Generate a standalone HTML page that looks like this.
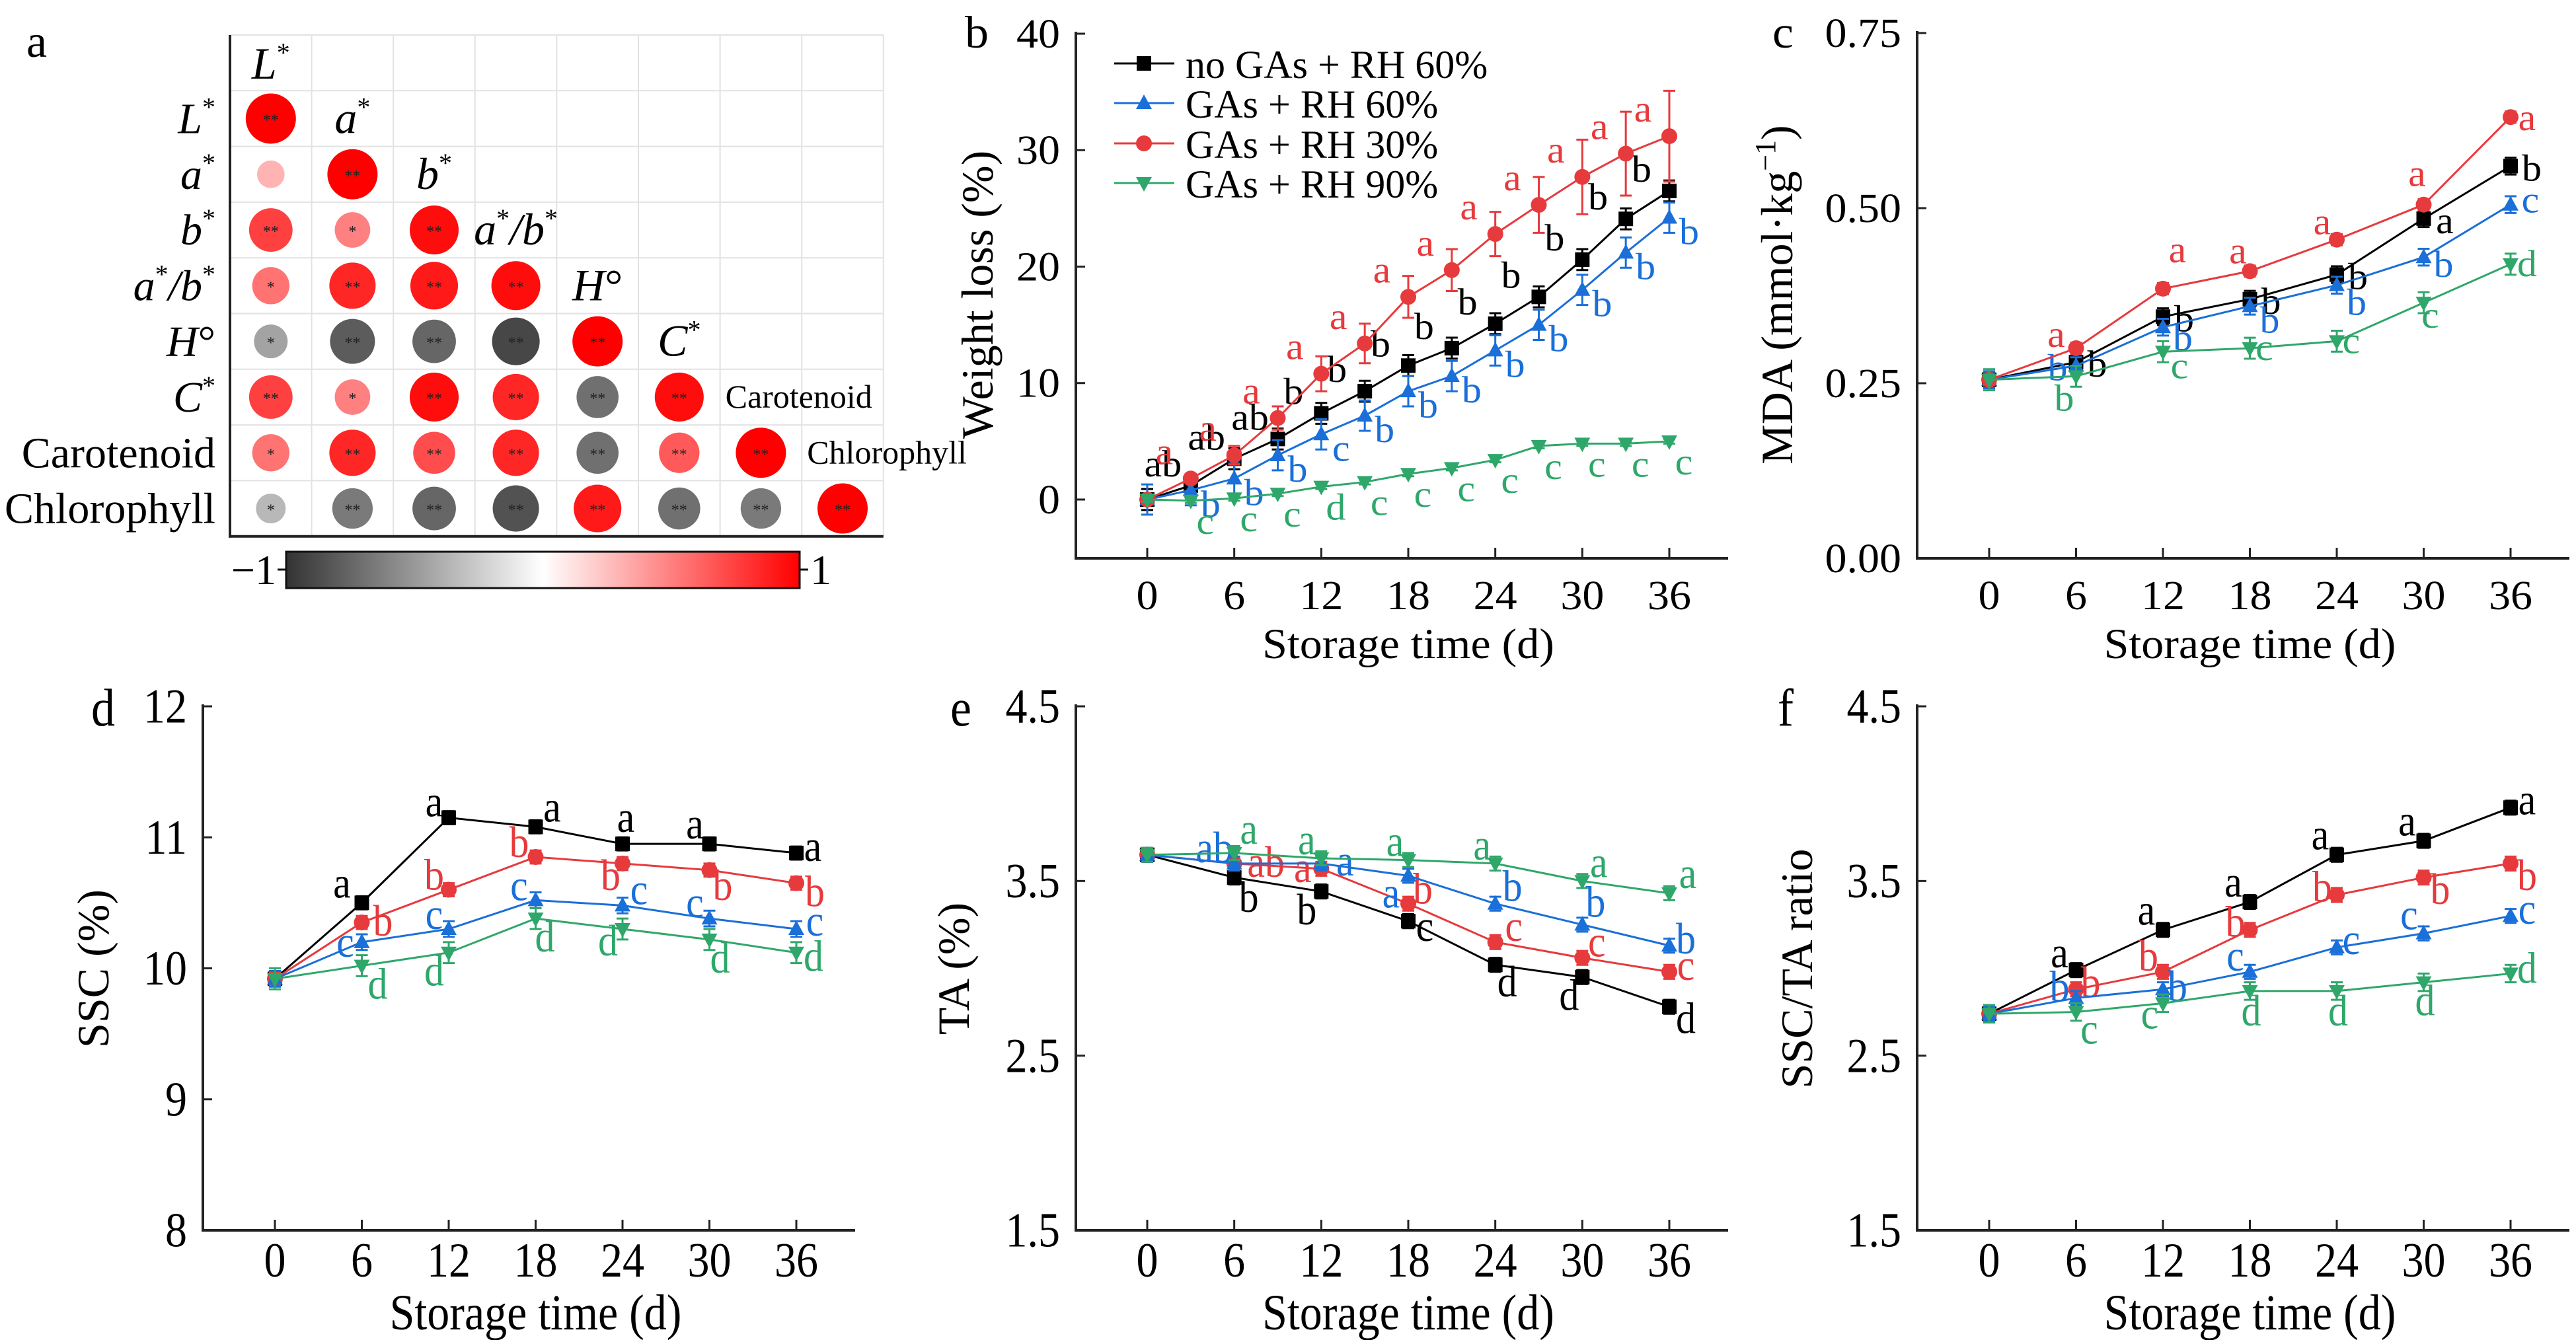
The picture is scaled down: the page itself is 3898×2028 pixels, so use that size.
<!DOCTYPE html>
<html><head><meta charset="utf-8"><style>
html,body{margin:0;padding:0;background:#fff}
svg{display:block}
text{font-family:"Liberation Serif",serif}
</style></head><body>
<svg id="s" xmlns="http://www.w3.org/2000/svg" width="3898" height="2028" viewBox="0 0 3898 2028">
<defs><linearGradient id="cb" x1="0" x2="1" y1="0" y2="0">
<stop offset="0" stop-color="#333"/><stop offset="0.5" stop-color="#fff"/><stop offset="1" stop-color="#f00"/></linearGradient></defs>
<rect width="3898" height="2028" fill="#fff"/>
</svg>
<script>
(function(){
const S=document.getElementById('s');let H='';
function T(x,y,s,o){o=o||{};const fs=o.fs||62,sy=o.sy||1,an=o.an||'start',fill=o.fill||'#000';
let tr='translate('+x+','+y+')'+(o.rot?' rotate('+o.rot+')':'')+' scale(1,'+sy+')';
H+='<text transform="'+tr+'" font-size="'+fs+'" text-anchor="'+an+'" fill="'+fill+'"'+(o.it?' font-style="italic"':'')+'>'+s+'</text>';}
function L(x1,y1,x2,y2,c,w){H+='<line x1="'+x1+'" y1="'+y1+'" x2="'+x2+'" y2="'+y2+'" stroke="'+c+'" stroke-width="'+w+'"/>';}
const aL=348,aT=53,cw=123.6,rh=84.3;
for(let i=0;i<=8;i++){L(aL+cw*i,aT,aL+cw*i,aT+rh*9,'#e2e2e2',2);}
for(let j=0;j<=9;j++){L(aL,aT+rh*j,aL+cw*8,aT+rh*j,'#e2e2e2',2);}
L(aL,aT,aL,aT+rh*9+2,'#222',4);L(aL-2,aT+rh*9,aL+cw*8,aT+rh*9,'#222',4);
const lab=['<tspan font-style="italic">L</tspan><tspan font-size="40" dy="-26">*</tspan>',
'<tspan font-style="italic">a</tspan><tspan font-size="40" dy="-26">*</tspan>',
'<tspan font-style="italic">b</tspan><tspan font-size="40" dy="-26">*</tspan>',
'<tspan font-style="italic">a</tspan><tspan font-size="40" dy="-26">*</tspan><tspan dy="26" font-style="italic">/b</tspan><tspan font-size="40" dy="-26">*</tspan>',
'<tspan font-style="italic">H</tspan>°',
'<tspan font-style="italic">C</tspan><tspan font-size="40" dy="-26">*</tspan>',
'Carotenoid','Chlorophyll'];
const M=[[1],[0.3,1],[0.75,0.5,0.95],[0.55,0.85,0.9,0.95],[-0.45,-0.8,-0.75,-0.9,1],[0.75,0.5,0.95,0.85,-0.7,0.95],[0.55,0.85,0.7,0.85,-0.7,0.65,1],[-0.35,-0.65,-0.75,-0.85,0.9,-0.7,-0.65,1]];
const ST=[['**'],['','**'],['**','*','**'],['*','**','**','**'],['*','**','**','**','**'],['**','*','**','**','**','**'],['*','**','**','**','**','**','**'],['*','**','**','**','**','**','**','**']];
T(aL+cw*0.5,aT+rh*0.5+24,lab[0],{fs:68,an:'middle'});
for(let i=0;i<8;i++){const cy=aT+rh*(i+1.5);
 T(326,cy+22,lab[i],{fs:66,an:'end'});
 for(let k=0;k<=i;k++){const r=M[i][k],cx=aL+cw*(k+0.5),rad=38*Math.sqrt(Math.abs(r));
  let col;if(r>0){const v=Math.round(255*(1-r));col='rgb(255,'+v+','+v+')';}else{const v=Math.round(255-204*(-r));col='rgb('+v+','+v+','+v+')';}
  H+='<circle cx="'+cx+'" cy="'+cy+'" r="'+rad+'" fill="'+col+'"/>';
  if(ST[i][k])T(cx,cy+10,ST[i][k],{fs:24,an:'middle',fill:'#222'});}
 if(i<7){const x=aL+cw*(i+1.5);
  if(i<5)T(x,cy+22,lab[i+1],{fs:68,an:'middle'});
  else T(aL+cw*(i+1)+8,cy+16,lab[i+1],{fs:50});}
}
H+='<rect x="433" y="835" width="777" height="55" fill="url(#cb)" stroke="#111" stroke-width="3"/>';
L(420,862,433,862,'#111',3);L(1210,862,1223,862,'#111',3);
T(418,884,'−1',{fs:64,an:'end'});T(1226,884,'1',{fs:64});
T(40,86,'a',{fs:70});
const COL={k:'#000',b:'#1a6fd8',r:'#e63a3d',g:'#2fa76a'};
function mark(t,x,y,c){if(t=='k')H+='<rect x="'+(x-11)+'" y="'+(y-11)+'" width="22" height="22" fill="'+c+'"/>';
 else if(t=='r')H+='<circle cx="'+x+'" cy="'+y+'" r="12" fill="'+c+'"/>';
 else if(t=='b')H+='<polygon points="'+x+','+(y-13)+' '+(x+12)+','+(y+9)+' '+(x-12)+','+(y+9)+'" fill="'+c+'"/>';
 else H+='<polygon points="'+x+','+(y+13)+' '+(x+12)+','+(y-9)+' '+(x-12)+','+(y-9)+'" fill="'+c+'"/>';}
function panel(P){
 const yv=v=>P.bot+(v-P.ymin)/(P.ymax-P.ymin)*(P.ytop-P.bot);
 const xv=d=>P.x0+(P.x36-P.x0)*d/36;
 L(P.left,P.bot,P.right,P.bot,'#222',4);L(P.left,P.bot+2,P.left,P.ytop-3,'#222',4);
 P.yt.forEach(v=>{const y=yv(v);L(P.left,y,P.left+14,y,'#222',3);T(P.left-24,y+22*P.sy,P.fmt(v),{fs:66,an:'end',sy:P.sy});});
 for(let d=0;d<=36;d+=6){const x=xv(d);L(x,P.bot,x,P.bot-16,'#222',3);T(x,P.xly,String(d),{fs:66,an:'middle',sy:P.sy});}
 T((P.x0+P.x36)/2,P.tly,'Storage time (d)',{fs:68,an:'middle',sy:P.sy});
 T(P.ytx,P.yty,P.ytitle,{fs:68,an:'middle',rot:-90,sy:1});
 T(P.lx,P.ly,P.lab,{fs:72,sy:P.sy});
 P.series.forEach(s=>{const c=COL[s.c];const n=s.v.length,step=36/(n-1);
  const pts=s.v.map((v,i)=>[xv(i*step),yv(v)]);
  H+='<polyline points="'+pts.map(p=>p.join(',')).join(' ')+'" fill="none" stroke="'+c+'" stroke-width="3"/>';
  pts.forEach((p,i)=>{const ev=(typeof s.e==='number'?s.e:s.e[i]);const e=Math.abs(ev/(P.ymax-P.ymin)*(P.ytop-P.bot));
   if(e>2){L(p[0],p[1]-e,p[0],p[1]+e,c,3);L(p[0]-9,p[1]-e,p[0]+9,p[1]-e,c,3);L(p[0]-9,p[1]+e,p[0]+9,p[1]+e,c,3);}
   mark(s.c,p[0],p[1],c);
   if(i>0&&s.l&&s.l[i-1]){const o=(s.o&&s.o[i-1])||s.d;T(p[0]+o[0],p[1]+o[1],s.l[i-1],{fs:60,an:'middle',sy:P.sy,fill:c});}
  });});
}
const f0=v=>String(v),f2=v=>v.toFixed(2),f1=v=>v.toFixed(1);
const TOPR={sy:0.95,bot:845,xly:922,tly:996};const BTMR={sy:1.12,bot:1862,ytop:1069,xly:1932,tly:2012};
panel(Object.assign({},TOPR,{left:1628,right:2615,x0:1736,x36:2526,ymin:-5.05,ymax:40,ytop:51,yt:[0,10,20,30,40],fmt:f0,ytitle:'Weight loss (%)',ytx:1502,yty:446,lab:'b',lx:1460,ly:72,
series:[
{c:'k',v:[0,1.2,3.5,5.2,7.4,9.3,11.5,13,15.1,17.4,20.6,24.1,26.5],e:0.9,l:['ab','ab','ab','b','b','b','b','b','b','b','b','b'],d:[-42,-14]},
{c:'b',v:[0,0.8,1.8,3.8,5.6,7.2,9.3,10.6,12.8,15,18,21.2,24.2],e:1.3,l:['b','b','b','c','b','b','b','b','b','b','b','b'],d:[30,40]},
{c:'r',v:[0,1.8,3.8,7,10.8,13.4,17.4,19.7,22.8,25.3,27.7,29.7,31.2],e:[0,.4,.8,1,1.5,1.7,1.8,1.8,1.9,2.4,3.2,3.6,3.9],l:['a','a','a','a','a','a','a','a','a','a','a','a'],d:[-40,-22]},
{c:'g',v:[0,-0.1,0.1,0.5,1.1,1.5,2.2,2.7,3.4,4.6,4.8,4.8,5],e:0.2,l:['c','c','c','d','c','c','c','c','c','c','c','c'],d:[22,50]}]}));
[['k','no GAs + RH 60%',96],['b','GAs + RH 60%',156],['r','GAs + RH 30%',217],['g','GAs + RH 90%',277]].forEach(a=>{
 L(1686,a[2],1777,a[2],COL[a[0]],3);mark(a[0],1731,a[2],COL[a[0]]);T(1794,a[2]+22,a[1],{fs:60,sy:1.0});});
panel(Object.assign({},TOPR,{left:2901,right:3888,x0:3010,x36:3799,ymin:0,ymax:0.75,ytop:50,yt:[0,0.25,0.5,0.75],fmt:f2,ytitle:'MDA (mmol·kg<tspan font-size="44" dy="-26">−1</tspan><tspan dy="26">)</tspan>',ytx:2712,yty:446,lab:'c',lx:2682,ly:72,
series:[
{c:'k',v:[0.255,0.28,0.345,0.37,0.405,0.485,0.56],e:0.012,l:['b','b','b','b','a','b'],d:[32,22]},
{c:'b',v:[0.255,0.275,0.33,0.36,0.39,0.43,0.505],e:0.012,l:['b','b','b','b','b','c'],o:[[-28,22],[30,35],[30,40],[30,45],[30,30],[30,12]],d:[30,35]},
{c:'r',v:[0.255,0.30,0.385,0.41,0.455,0.505,0.63],e:0.008,l:['a','a','a','a','a','a'],o:[[-30,-2],[22,-40],[-18,-12],[-22,-8],[-10,-28],[25,20]],d:[-25,-10]},
{c:'g',v:[0.255,0.26,0.295,0.30,0.31,0.365,0.42],e:0.015,l:['b','c','c','c','c','d'],o:[[-18,52],[25,40],[22,18],[22,18],[10,38],[25,18]],d:[25,20]}]}));
panel(Object.assign({},BTMR,{left:307,right:1294,x0:416,x36:1205,ymin:8,ymax:12,yt:[8,9,10,11,12],fmt:f0,ytitle:'SSC (%)',ytx:164,yty:1466,lab:'d',lx:138,ly:1098,
series:[
{c:'k',v:[9.92,10.5,11.15,11.08,10.95,10.95,10.88],e:0.05,l:['a','a','a','a','a','a'],o:[[-30,-8],[-22,-2],[25,-8],[5,-18],[-22,-8],[25,12]],d:[0,0]},
{c:'r',v:[9.92,10.35,10.6,10.85,10.8,10.75,10.65],e:0.05,l:['b','b','b','b','b','b'],o:[[32,20],[-22,0],[-25,0],[-18,40],[20,45],[28,35]],d:[0,0]},
{c:'b',v:[9.92,10.2,10.3,10.52,10.48,10.38,10.3],e:0.06,l:['c','c','c','c','c','c'],o:[[-25,22],[-22,0],[-25,0],[25,-2],[-22,-2],[28,10]],d:[0,0]},
{c:'g',v:[9.92,10.02,10.12,10.38,10.3,10.22,10.12],e:0.08,l:['d','d','d','d','d','d'],o:[[24,50],[-22,50],[14,50],[-22,40],[16,50],[26,28]],d:[0,0]}]}));
panel(Object.assign({},BTMR,{left:1628,right:2615,x0:1736,x36:2526,ymin:1.5,ymax:4.5,yt:[1.5,2.5,3.5,4.5],fmt:f1,ytitle:'TA (%)',ytx:1466,yty:1466,lab:'e',lx:1438,ly:1098,
series:[
{c:'k',v:[3.65,3.52,3.44,3.27,3.02,2.95,2.78],e:0.04,l:['b','b','c','d','d','d'],o:[[22,52],[-22,50],[25,30],[18,48],[-20,50],[25,40]],d:[0,0]},
{c:'r',v:[3.65,3.6,3.57,3.37,3.15,3.06,2.98],e:0.04,l:['ab','a','b','c','c','c'],o:[[48,20],[-28,20],[22,0],[28,-2],[22,-2],[25,12]],d:[0,0]},
{c:'b',v:[3.65,3.6,3.6,3.53,3.37,3.25,3.13],e:0.04,l:['ab','a','a','b','b','b'],o:[[-30,-2],[36,18],[-26,48],[26,-4],[20,-12],[25,12]],d:[0,0]},
{c:'g',v:[3.65,3.66,3.63,3.62,3.6,3.5,3.43],e:0.04,l:['a','a','a','a','a','a'],o:[[22,-14],[-22,-6],[-20,-6],[-20,-6],[25,-6],[28,-8]],d:[0,0]}]}));
panel(Object.assign({},BTMR,{left:2901,right:3888,x0:3010,x36:3799,ymin:1.5,ymax:4.5,yt:[1.5,2.5,3.5,4.5],fmt:f1,ytitle:'SSC/TA ratio',ytx:2742,yty:1466,lab:'f',lx:2690,ly:1098,
series:[
{c:'k',v:[2.74,2.99,3.22,3.38,3.65,3.73,3.92],e:0.04,l:['a','a','a','a','a','a'],o:[[-25,-4],[-25,-8],[-25,-8],[-25,-8],[-25,-8],[25,10]],d:[0,0]},
{c:'r',v:[2.74,2.88,2.98,3.22,3.42,3.52,3.6],e:0.04,l:['b','b','b','b','b','b'],o:[[22,12],[-22,-2],[-22,10],[-22,10],[25,40],[25,40]],d:[0,0]},
{c:'b',v:[2.74,2.83,2.88,2.98,3.12,3.2,3.3],e:0.04,l:['b','b','c','c','c','c'],o:[[-25,5],[22,18],[-22,-2],[22,10],[-22,-6],[25,12]],d:[0,0]},
{c:'g',v:[2.74,2.75,2.8,2.87,2.87,2.92,2.97],e:0.05,l:['c','c','d','d','d','d'],o:[[20,48],[-20,38],[2,52],[2,52],[2,50],[25,14]],d:[0,0]}]}));
S.insertAdjacentHTML('beforeend',H);
})();
</script>
</body></html>
